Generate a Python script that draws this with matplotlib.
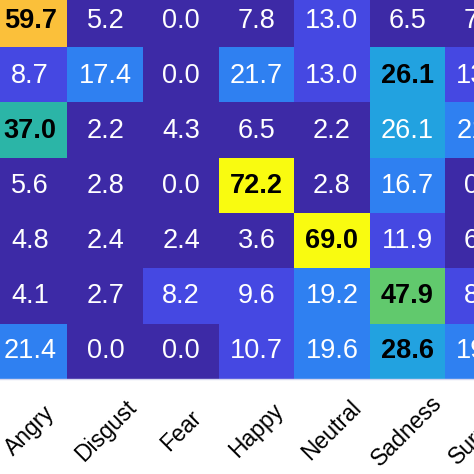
import numpy as np
import matplotlib
matplotlib.use('Agg')
import matplotlib.pyplot as plt
from matplotlib.colors import ListedColormap, BoundaryNorm

plt.rcParams['font.family'] = ['Liberation Sans', 'DejaVu Sans']

# Emotion classes (rows = true, columns = predicted)
classes = ['Angry', 'Disgust', 'Fear', 'Happy', 'Neutral', 'Sadness', 'Surprise']

# Confusion matrix in percent
row_angry    = [59.7,  5.2, 0.0,  7.8, 13.0,  6.5,  7.8]
row_disgust  = [ 8.7, 17.4, 0.0, 21.7, 13.0, 26.1, 13.0]
row_fear     = [37.0,  2.2, 4.3,  6.5,  2.2, 26.09, 21.7]
row_happy    = [ 5.6,  2.8, 0.0, 72.2,  2.8, 16.7,  0.0]
row_neutral  = [ 4.8,  2.4, 2.4,  3.6, 69.0, 11.9,  6.0]
row_sadness  = [ 4.1,  2.7, 8.2,  9.6, 19.2, 47.9,  8.2]
row_surprise = [21.4,  0.0, 0.0, 10.7, 19.6, 28.6, 19.6]

# discrete parula-like palette (9 levels)
palette = ['#3d2aa6', '#4548e2', '#2f80f1', '#22a2e0', '#2bb5a7',
           '#61c96d', '#b9bd3c', '#fbc03a', '#f9fb10']

cm = np.array([row_angry, row_disgust, row_fear, row_happy,
               row_neutral, row_sadness, row_surprise])

cmap = ListedColormap(palette)
norm = BoundaryNorm(np.linspace(0, cm.max(), len(palette) + 1), cmap.N, clip=True)

fig = plt.figure(figsize=(4.74, 4.74), dpi=100)
W, H = 474.0, 474.0
cell_w, cell_h = 75.45, 55.15
left_px, bottom_px = -7.6, 379.0
ax = fig.add_axes([left_px / W, (H - bottom_px) / H,
                   cell_w * len(classes) / W, cell_h * len(classes) / H])

ax.imshow(cm, cmap=cmap, norm=norm, aspect='auto', interpolation='nearest')

for i in range(cm.shape[0]):
    for j in range(cm.shape[1]):
        v = cm[i, j]
        if v >= 26.1:
            ax.text(j, i, f'{v:.1f}', ha='center', va='center',
                    color='black', fontsize=19.5, fontweight='bold')
        else:
            ax.text(j, i, f'{v:.1f}', ha='center', va='center',
                    color='white', fontsize=19.5)

ax.set_xticks(range(len(classes)))
ax.set_xticklabels(classes, rotation=45, ha='center', va='center',
                   rotation_mode='anchor', fontsize=16.5)
ax.set_yticks([])
ax.tick_params(axis='x', length=0, pad=37)

for s in ['top', 'left', 'right']:
    ax.spines[s].set_visible(False)
ax.spines['bottom'].set_color('#d6d7ee')
ax.spines['bottom'].set_linewidth(1.0)

fig.savefig('out.png', dpi=100)
